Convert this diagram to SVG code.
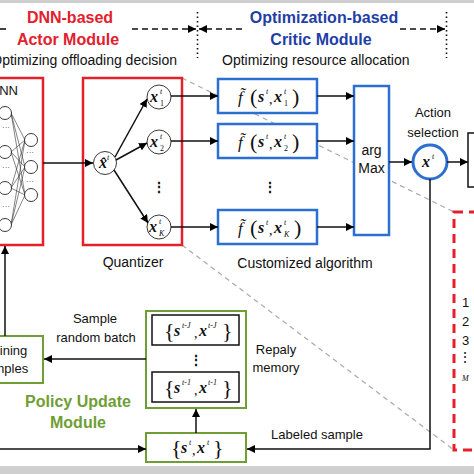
<svg xmlns="http://www.w3.org/2000/svg" width="474" height="474" viewBox="0 0 474 474">
<defs>
<marker id="ah" viewBox="0 0 10 10" refX="10" refY="5" markerWidth="8" markerHeight="8" markerUnits="userSpaceOnUse" orient="auto"><path d="M0,0 L10,5 L0,10 z" fill="#000"/></marker>
<style>
.t{font-family:"Liberation Sans",Arial,sans-serif;font-size:14px;fill:#111}
.s13{font-size:13px}
.ttl{font-family:"Liberation Sans",Arial,sans-serif;font-size:16px;font-weight:bold;text-anchor:middle}
.m{font-family:"Liberation Serif","Times New Roman",serif;fill:#111}
.bi{font-weight:bold;font-style:italic;font-size:16px}
.it{font-style:italic}
.sm{font-size:8px;font-style:italic}
.br{font-size:22px}
.red{fill:none;stroke:#e3202c;stroke-width:2.5}
.blue{fill:#fff;stroke:#2c6fd1;stroke-width:2.5}
.green{fill:#fff;stroke:#6f9e35;stroke-width:2}
.blk{fill:#fff;stroke:#111;stroke-width:1.5}
.ln{stroke:#111;stroke-width:1.5;fill:none}
.ar{stroke:#111;stroke-width:1.5;fill:none;marker-end:url(#ah)}
.nc{fill:#fff;stroke:#222;stroke-width:0.9}
.nl{stroke:#333;stroke-width:0.6}
.gd{stroke:#aaa;stroke-width:1.2;stroke-dasharray:5 4;fill:none}
</style>
</defs>
<rect x="0" y="0" width="474" height="474" fill="#fff"/>
<rect x="0" y="0" width="474" height="3" fill="#cfcfcf"/>
<rect x="0" y="466" width="474" height="8" fill="#cfcfcf"/>

<!-- zoom indicator lines -->
<g id="zoom-lines">
<line class="gd" x1="182" y1="78" x2="454" y2="212"/>
<line class="gd" x1="182" y1="245" x2="454" y2="450"/>
</g>

<!-- titles -->
<g id="titles">
<text class="ttl" x="70" y="23" fill="#e3202c">DNN-based</text>
<text class="ttl" x="68" y="45" fill="#e3202c">Actor Module</text>
<text class="ttl" x="324" y="23" fill="#1f3fa6">Optimization-based</text>
<text class="ttl" x="321" y="45" fill="#1f3fa6">Critic Module</text>
<text class="t" x="177" y="65" text-anchor="end">Optimizing offloading decision</text>
<text class="t" x="222" y="65">Optimizing resource allocation</text>
<text class="ttl" x="78" y="407" fill="#6f9e35">Policy Update</text>
<text class="ttl" x="78" y="428" fill="#6f9e35">Module</text>
</g>

<g id="module-dividers">
<line x1="0" y1="29" x2="7" y2="29" stroke="#111" stroke-width="1.6" stroke-dasharray="6 4"/>
<line x1="132" y1="29" x2="196" y2="29" stroke="#111" stroke-width="1.6" stroke-dasharray="6 4" marker-end="url(#ah)"/>
<line x1="242" y1="29" x2="199" y2="29" stroke="#111" stroke-width="1.6" stroke-dasharray="6 4" marker-end="url(#ah)"/>
<line x1="400" y1="29" x2="445" y2="29" stroke="#111" stroke-width="1.6" stroke-dasharray="6 4" marker-end="url(#ah)"/>
<line x1="197.5" y1="12" x2="197.5" y2="58" stroke="#111" stroke-width="1.6" stroke-dasharray="1.5 3"/>
<line x1="446.5" y1="12" x2="446.5" y2="58" stroke="#111" stroke-width="1.6" stroke-dasharray="1.5 3"/>
</g>

<!-- DNN -->
<g id="dnn">
<rect class="red" x="-10" y="78" width="53" height="167" fill="#fff"/>
<text class="t s13" x="18" y="95" text-anchor="end">DNN</text>
<g class="nl">
<line x1="11" y1="113" x2="25" y2="140"/><line x1="11" y1="113" x2="25" y2="167"/><line x1="11" y1="113" x2="25" y2="195"/>
<line x1="11" y1="152" x2="25" y2="140"/><line x1="11" y1="152" x2="25" y2="167"/><line x1="11" y1="152" x2="25" y2="195"/>
<line x1="11" y1="188" x2="25" y2="140"/><line x1="11" y1="188" x2="25" y2="167"/><line x1="11" y1="188" x2="25" y2="195"/>
<line x1="11" y1="225" x2="25" y2="140"/><line x1="11" y1="225" x2="25" y2="167"/><line x1="11" y1="225" x2="25" y2="195"/>
</g>
<circle class="nc" cx="5" cy="113" r="6.5"/><circle class="nc" cx="5" cy="152" r="6.5"/>
<circle class="nc" cx="5" cy="188" r="6.5"/><circle class="nc" cx="5" cy="225" r="6.5"/>
<circle class="nc" cx="31" cy="140" r="6.5"/><circle class="nc" cx="31" cy="167" r="6.5"/><circle class="nc" cx="31" cy="195" r="6.5"/>
<g font-family="Liberation Sans,sans-serif" font-size="8" fill="#444" text-anchor="middle">
<text x="6" y="130">···</text><text x="6" y="170">···</text><text x="6" y="209">···</text>
<text x="30" y="155">···</text><text x="30" y="184">···</text>
</g>
</g>

<!-- Quantizer -->
<g id="quantizer">
<rect class="red" x="83" y="78" width="99" height="167" fill="#fff"/>
<text class="t" x="133" y="267" text-anchor="middle">Quantizer</text>
<circle class="nc" cx="105" cy="163" r="11.5"/>
<text class="m bi" x="99" y="168" font-size="14">x̂</text>
<text class="m sm" x="107" y="160">t</text>
<circle class="nc" cx="159" cy="97" r="12"/>
<text class="m bi" x="150" y="102">x</text><text class="m sm" x="160" y="94">t</text><text class="m" x="160" y="106" font-size="8">1</text>
<circle class="nc" cx="159" cy="142" r="12"/>
<text class="m bi" x="150" y="147">x</text><text class="m sm" x="160" y="139">t</text><text class="m" x="160" y="151" font-size="8">2</text>
<circle class="nc" cx="159" cy="227" r="12"/>
<text class="m bi" x="149" y="232">x</text><text class="m sm" x="159" y="224">t</text><text class="m sm" x="159" y="236">K</text>
<text class="t" x="159" y="192" text-anchor="middle" font-weight="bold">⋮</text>
</g>

<!-- f boxes -->
<g id="f1" transform="translate(218,79)">
<rect class="blue" x="0" y="0" width="99" height="34"/>
<text class="m it" x="20" y="24" font-size="17">f̃</text>
<text class="m br" x="32" y="25">(</text>
<text class="m bi" x="40" y="23">s</text><text class="m sm" x="48" y="15">t</text>
<text class="m" x="51" y="25" font-size="14">,</text>
<text class="m bi" x="56" y="23">x</text><text class="m sm" x="66" y="15">t</text><text class="m" x="66" y="27" font-size="8">1</text>
<text class="m br" x="74" y="25">)</text>
</g>
<g id="f2" transform="translate(218,124)">
<rect class="blue" x="0" y="0" width="99" height="34"/>
<text class="m it" x="20" y="24" font-size="17">f̃</text>
<text class="m br" x="32" y="25">(</text>
<text class="m bi" x="40" y="23">s</text><text class="m sm" x="48" y="15">t</text>
<text class="m" x="51" y="25" font-size="14">,</text>
<text class="m bi" x="56" y="23">x</text><text class="m sm" x="66" y="15">t</text><text class="m" x="66" y="27" font-size="8">2</text>
<text class="m br" x="74" y="25">)</text>
</g>
<g id="fK" transform="translate(218,210)">
<rect class="blue" x="0" y="0" width="99" height="34"/>
<text class="m it" x="20" y="24" font-size="17">f̃</text>
<text class="m br" x="32" y="25">(</text>
<text class="m bi" x="40" y="23">s</text><text class="m sm" x="48" y="15">t</text>
<text class="m" x="51" y="25" font-size="14">,</text>
<text class="m bi" x="56" y="23">x</text><text class="m sm" x="66" y="15">t</text><text class="m sm" x="66" y="27">K</text>
<text class="m br" x="76" y="25">)</text>
</g>
<g id="customized-label">
<text class="t" x="270" y="192" text-anchor="middle" font-weight="bold">⋮</text>
<text class="t" x="305" y="268" text-anchor="middle">Customized algorithm</text>
</g>

<!-- argMax -->
<g id="argmax">
<rect class="blue" x="354" y="86" width="35" height="149"/>
<text class="t" x="371.5" y="155" text-anchor="middle">arg</text>
<text class="t" x="371.5" y="173" text-anchor="middle">Max</text>
</g>

<!-- action selection -->
<g id="action">
<text class="t s13" x="433" y="117" text-anchor="middle">Action</text>
<text class="t s13" x="433" y="137" text-anchor="middle">selection</text>
<circle cx="430" cy="162" r="17" fill="#fff" stroke="#2c6fd1" stroke-width="3"/>
<text class="m bi" x="422" y="167">x</text><text class="m sm" x="432" y="159">t</text>
</g>
<g id="env-box"><rect class="blk" x="468" y="133" width="20" height="54"/></g>

<!-- red dashed zoom box -->
<g id="zoom-box">
<rect x="454" y="212" width="40" height="238" fill="#fff" stroke="#e3202c" stroke-width="3" stroke-dasharray="9 6"/>
<g class="t s13" text-anchor="start">
<text x="462" y="307">1</text><text x="462" y="326">2</text><text x="462" y="345">3</text>
</g>
<text class="t" x="465" y="362" font-size="9" text-anchor="middle">⋮</text>
<text class="m it" x="462" y="381" font-size="8">M</text>
</g>

<!-- training samples -->
<g id="training">
<rect class="green" x="-10" y="336" width="53" height="47"/>
<text class="t s13" x="4" y="355" text-anchor="middle">Training</text>
<text class="t s13" x="4" y="373" text-anchor="middle">samples</text>
</g>
<g id="sample-label">
<text class="t s13" x="95" y="323" text-anchor="middle">Sample</text>
<text class="t s13" x="96" y="342" text-anchor="middle">random batch</text>
</g>

<!-- replay memory -->
<g id="replay">
<rect class="green" x="146" y="311" width="100" height="97"/>
<rect class="blk" x="152" y="315" width="87" height="30"/>
<text class="m br" x="164" y="338" font-size="20">{</text>
<text class="m bi" x="174" y="336">s</text><text class="m sm" x="182" y="328">t-J</text>
<text class="m" x="194" y="338" font-size="14">,</text>
<text class="m bi" x="199" y="336">x</text><text class="m sm" x="208" y="328">t-J</text>
<text class="m br" x="222" y="338" font-size="20">}</text>
<text class="t" x="196" y="365" text-anchor="middle" font-weight="bold">⋮</text>
<rect class="blk" x="152" y="372" width="87" height="30"/>
<text class="m br" x="164" y="395" font-size="20">{</text>
<text class="m bi" x="174" y="393">s</text><text class="m sm" x="182" y="385">t-1</text>
<text class="m" x="194" y="395" font-size="14">,</text>
<text class="m bi" x="199" y="393">x</text><text class="m sm" x="208" y="385">t-1</text>
<text class="m br" x="222" y="395" font-size="20">}</text>
<text class="t s13" x="276" y="354" text-anchor="middle">Repaly</text>
<text class="t s13" x="276" y="372" text-anchor="middle">memory</text>
</g>

<!-- labeled sample box -->
<g id="labeled">
<rect class="green" x="146" y="433" width="100" height="29"/>
<text class="m br" x="171" y="455" font-size="20">{</text>
<text class="m bi" x="181" y="453">s</text><text class="m sm" x="189" y="445">t</text>
<text class="m" x="192" y="455" font-size="14">,</text>
<text class="m bi" x="197" y="453">x</text><text class="m sm" x="207" y="445">t</text>
<text class="m br" x="213" y="455" font-size="20">}</text>
<text class="t s13" x="317" y="439" text-anchor="middle">Labeled sample</text>
</g>

<!-- connectors -->
<g id="connectors">
<line class="ar" x1="43" y1="163" x2="93" y2="163"/>
<line class="ar" x1="115" y1="157" x2="147" y2="99"/>
<line class="ar" x1="116" y1="160" x2="147" y2="143"/>
<line class="ar" x1="114" y1="170" x2="148" y2="223"/>
<line class="ar" x1="171" y1="96" x2="218" y2="96"/>
<line class="ar" x1="171" y1="141" x2="218" y2="141"/>
<line class="ar" x1="171" y1="227" x2="218" y2="227"/>
<line class="ar" x1="317" y1="96" x2="354" y2="96"/>
<line class="ar" x1="317" y1="141" x2="354" y2="141"/>
<line class="ar" x1="317" y1="227" x2="354" y2="227"/>
<line class="ar" x1="389" y1="162" x2="412" y2="162"/>
<line class="ar" x1="447" y1="162" x2="468" y2="162"/>
<polyline class="ar" points="430,179 430,449 247,449"/>
<line class="ar" x1="0" y1="449" x2="146" y2="449"/>
<line class="ar" x1="196" y1="433" x2="196" y2="409"/>
<line class="ar" x1="146" y1="359" x2="44" y2="359"/>
<line class="ar" x1="5" y1="336" x2="5" y2="246"/>
</g>
</svg>
